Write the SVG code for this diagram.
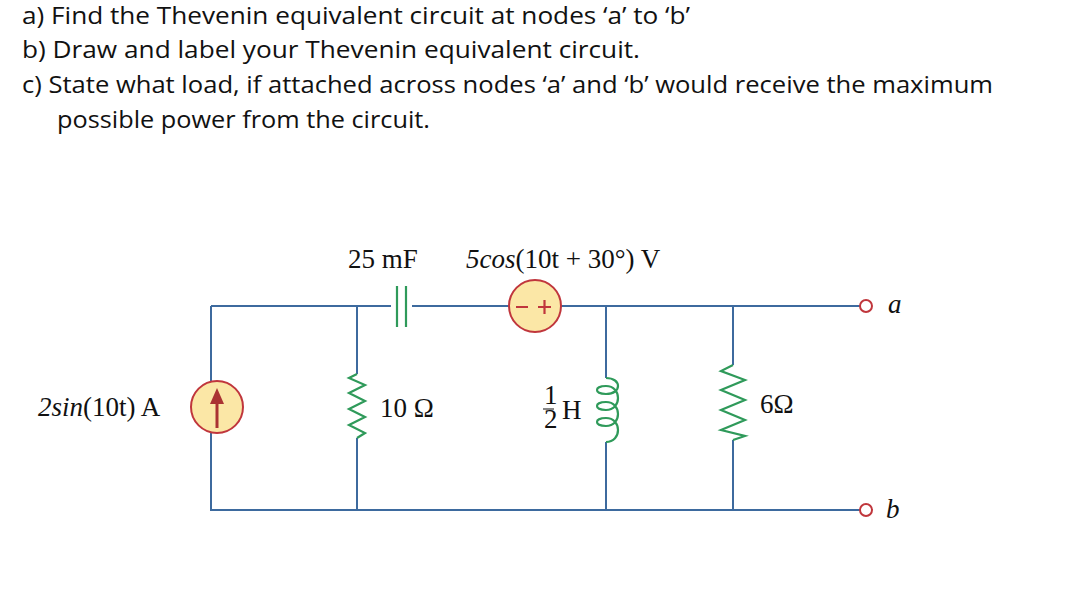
<svg xmlns="http://www.w3.org/2000/svg" width="1082" height="594" viewBox="0 0 1082 594">
<style>
.q{font-family:"Open Sans","Liberation Sans",sans-serif;font-size:23px;fill:#111}
.l{font-family:"Liberation Serif",serif;font-size:27px;fill:#111}
.w{stroke:#3d6a9e;stroke-width:2;fill:none}
.g{stroke:#2f9a5a;stroke-width:2.2;fill:none}
.src{fill:#fbe7a6;stroke:#c0363c;stroke-width:2}
</style>
<rect width="1082" height="594" fill="#fff"/>
<g id="text">
<text class="q" x="22" y="24" textLength="668" lengthAdjust="spacingAndGlyphs">a) Find the Thevenin equivalent circuit at nodes ‘a’ to ‘b’</text>
<text class="q" x="22" y="58" textLength="618" lengthAdjust="spacingAndGlyphs">b) Draw and label your Thevenin equivalent circuit.</text>
<text class="q" x="22" y="93" textLength="971" lengthAdjust="spacingAndGlyphs">c) State what load, if attached across nodes ‘a’ and ‘b’ would receive the maximum</text>
<text class="q" x="57" y="128" textLength="373" lengthAdjust="spacingAndGlyphs">possible power from the circuit.</text>
</g>
<g id="connectors">
<path class="w" d="M211 306 H391 M412 306 H509 M561 306 H860 M211 306 V381 M211 433 V510 H860"/>
<path class="w" d="M357 306 V374 M357 438 V510 M606 306 V378 M606 442 V510 M733 306 V365 M733 440 V510"/>
</g>
<g id="cap"><path class="g" d="M397 286 V327 M406 286 V327"/><text class="l" x="348" y="268">25 mF</text></g>
<g id="vsrc"><circle class="src" cx="535" cy="306" r="26"/><path d="M516 307 H528 M538 307 H551 M544.5 300 V314" stroke="#c0363c" stroke-width="2.2"/><text class="l" x="466" y="268"><tspan font-style="italic">5cos</tspan>(10t + 30°) V</text></g>
<g id="isrc"><circle class="src" cx="217" cy="407" r="26"/><path d="M217 428 V400" stroke="#a33" stroke-width="3"/><path d="M210 404 L217 388 L224 404 Z" fill="#a33"/><text class="l" x="38" y="416"><tspan font-style="italic">2sin</tspan>(10t) A</text></g>
<g id="r10"><path class="g" d="M357 374 L349 378 L365 385 L349 393 L365 401 L349 409 L365 417 L349 425 L365 433 L357 438"/><text class="l" x="380" y="417">10 Ω</text></g>
<g id="ind"><path class="g" d="M606 378 C622 378 622 394 606 394 C594 394 594 386 606 386 C622 386 622 410 606 410 C594 410 594 402 606 402 C622 402 622 426 606 426 C594 426 594 418 606 418 C622 418 622 442 606 442"/>
<text class="l" x="544" y="404" font-size="14">1</text><path d="M543 409 H554" stroke="#111" stroke-width="1"/><text class="l" x="544" y="428" font-size="14">2</text><text class="l" x="562" y="419">H</text></g>
<g id="r6"><path class="g" d="M733 365 L721 371 L745 380 L721 390 L745 400 L721 410 L745 420 L721 430 L745 436 L733 440"/><text class="l" x="760" y="413">6Ω</text></g>
<g id="ta"><circle cx="866" cy="306" r="6" fill="#fff" stroke="#c0363c" stroke-width="2"/><text class="l" x="888" y="313" font-style="italic">a</text></g>
<g id="tb"><circle cx="866" cy="510" r="6" fill="#fff" stroke="#c0363c" stroke-width="2"/><text class="l" x="886" y="518" font-style="italic">b</text></g>
</svg>
